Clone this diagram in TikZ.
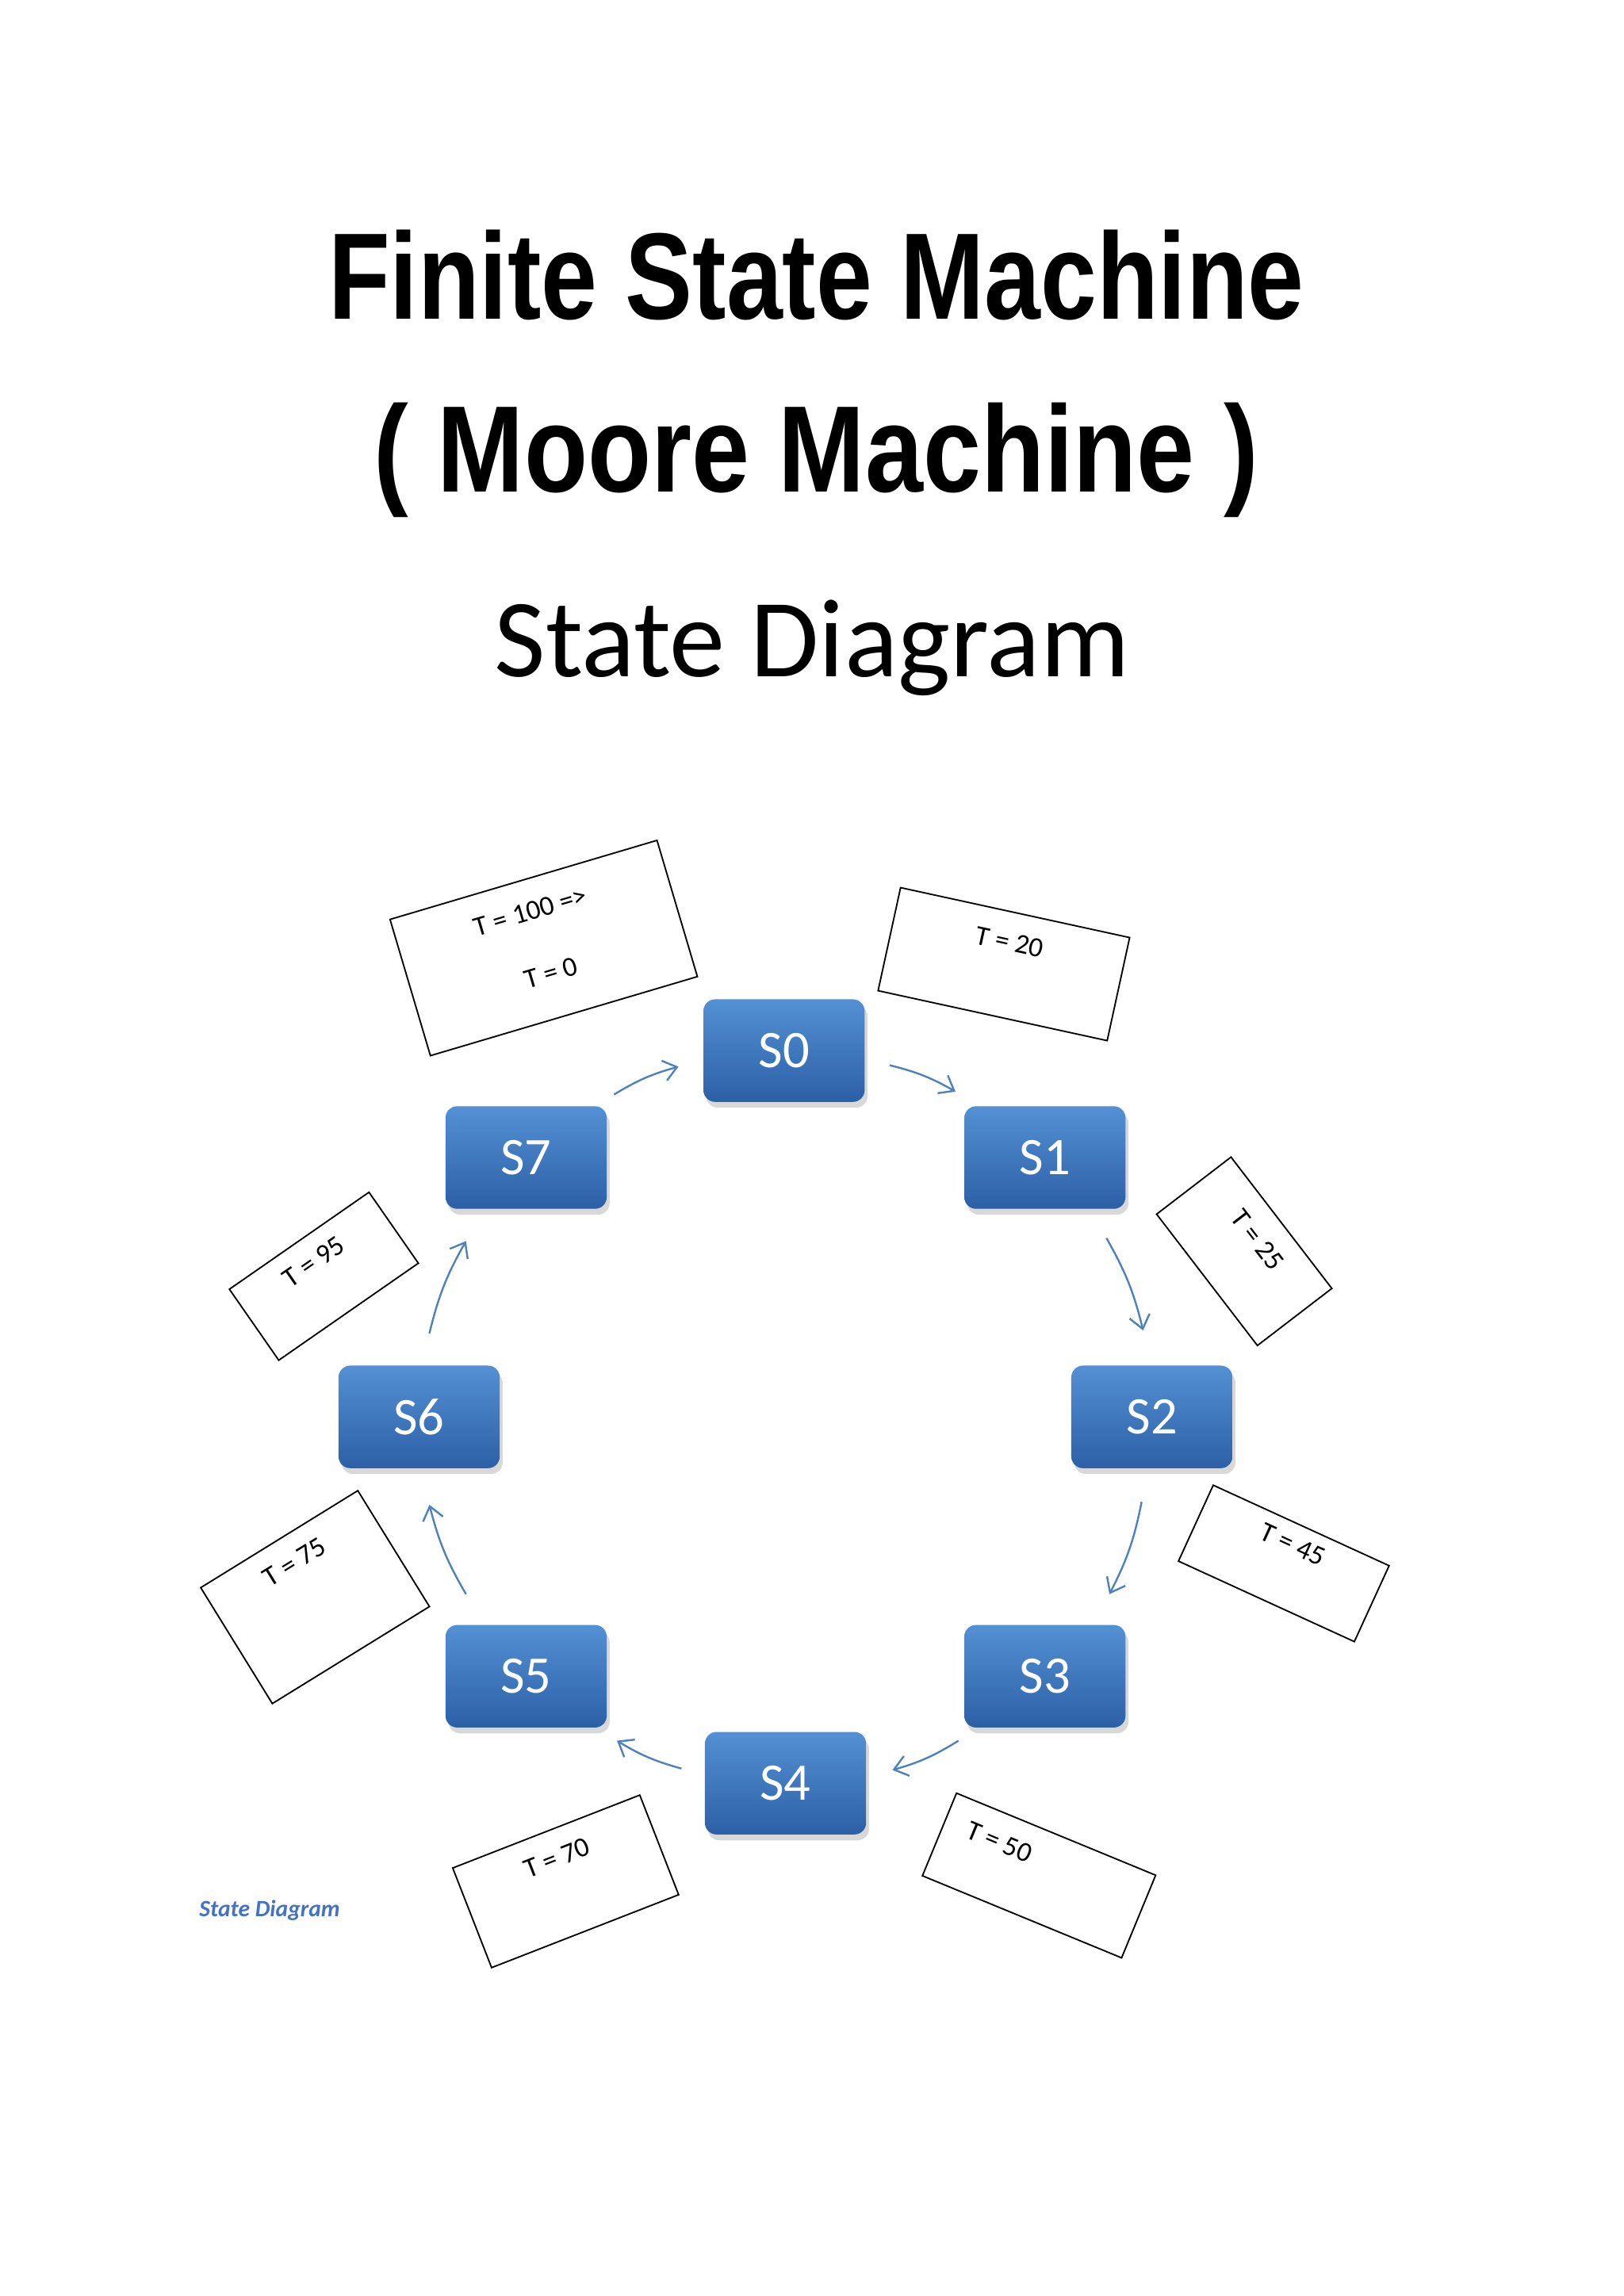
\documentclass[tikz,border=0pt]{standalone}
\usepackage{fontspec}
\setmainfont{Carlito}
\newfontfamily\hdr{Liberation Sans}
\usetikzlibrary{arrows.meta,shadows}
\definecolor{sttop}{RGB}{84,144,212}
\definecolor{stbot}{RGB}{44,96,166}
\definecolor{arc}{RGB}{79,129,189}
\begin{document}
\begin{tikzpicture}[x=1pt,y=-1pt,
  st/.style={rounded corners=8pt,minimum width=110pt,minimum height=70pt,draw=none,
    top color=sttop,bottom color=stbot,
    drop shadow={shadow xshift=2pt,shadow yshift=-4pt,opacity=0.3},
    text=white,font=\fontsize{36}{40}\selectfont},
  lb/.style={line width=1pt},
  lt/.style={font=\fontsize{19}{22}\selectfont},
  ar/.style={draw=arc,line width=1.3pt,-{Straight Barb[length=9pt,width=14pt]}}]
\useasboundingbox (0,0) rectangle (1108,1567);
\fill[white] (0,0) rectangle (1108,1567);
\node (t1) at (557,188) {\hdr\bfseries\fontsize{84}{90}\selectfont\scalebox{0.82}[1]{Finite State Machine}};
\node (t2) at (557,314) {\hdr\bfseries\fontsize{84}{90}\selectfont\scalebox{0.845}[1]{(\ Moore Machine )}};
\node (t3) at (554,442) {\fontsize{76}{84}\selectfont State Diagram};
\node[text={rgb,255:red,68;green,114;blue,196},font=\bfseries\itshape\fontsize{16}{18}\selectfont] (cap) at (184,1304) {State Diagram};
% label boxes
\draw[lb,rotate around={16.5:(371,647)}] (276,598.5) rectangle ++(190,97);
\draw[lb,rotate around={-12.3:(685,658)}] (605,622) rectangle ++(160,72);
\draw[lb,rotate around={-52.5:(849,854)}] (792.5,822) rectangle ++(113,64);
\draw[lb,rotate around={-24.6:(876,1067)}] (810,1038.5) rectangle ++(132,57);
\draw[lb,rotate around={-22.4:(709,1280)}] (635.5,1249.5) rectangle ++(147,61);
\draw[lb,rotate around={21.3:(386,1284)}] (317.5,1247.5) rectangle ++(137,73);
\draw[lb,rotate around={31.7:(215,1090)}] (152,1043.5) rectangle ++(126,93);
\draw[lb,rotate around={34.8:(221,871)}] (163,841.5) rectangle ++(116,59);
% label texts
\node[lt,rotate=16.5] (x0) at (362,622) {T = 100 =>};
\node[lt,rotate=16.5] (y0) at (376,664) {T = 0};
\node[lt,rotate=-12.3] (x1) at (689,643) {T = 20};
\node[lt,rotate=-52.5] (x2) at (858,846) {T = 25};
\node[lt,rotate=-24.6] (x3) at (882,1054) {T = 45};
\node[lt,rotate=-22.4] (x4) at (682,1257) {T = 50};
\node[lt,rotate=21.3] (x5) at (380,1268) {T = 70};
\node[lt,rotate=31.7] (x6) at (201,1066) {T = 75};
\node[lt,rotate=34.8] (x7) at (214,861) {T = 95};
% states
\node[st] (S0) at (535,717) {S0};
\node[st] (S1) at (713,790) {S1};
\node[st] (S2) at (786,967) {S2};
\node[st] (S3) at (713,1144) {S3};
\node[st] (S4) at (536,1217) {S4};
\node[st] (S5) at (359,1144) {S5};
\node[st] (S6) at (286,967) {S6};
\node[st] (S7) at (359,790) {S7};
% connector ends
\coordinate (a0) at (607,727); \coordinate (b0) at (652,745);
\coordinate (a1) at (755,845); \coordinate (b1) at (780,908);
\coordinate (a2) at (779,1025); \coordinate (b2) at (757,1088);
\coordinate (a3) at (654,1188); \coordinate (b3) at (609,1208);
\coordinate (a4) at (465,1207); \coordinate (b4) at (421,1188);
\coordinate (a5) at (318,1088); \coordinate (b5) at (293,1027);
\coordinate (a6) at (293,910); \coordinate (b6) at (318,847);
\coordinate (a7) at (419,747); \coordinate (b7) at (463,728);
\foreach \i in {0,...,7}{\draw[ar] (a\i) to[bend left=8] (b\i);}
\end{tikzpicture}
\end{document}
